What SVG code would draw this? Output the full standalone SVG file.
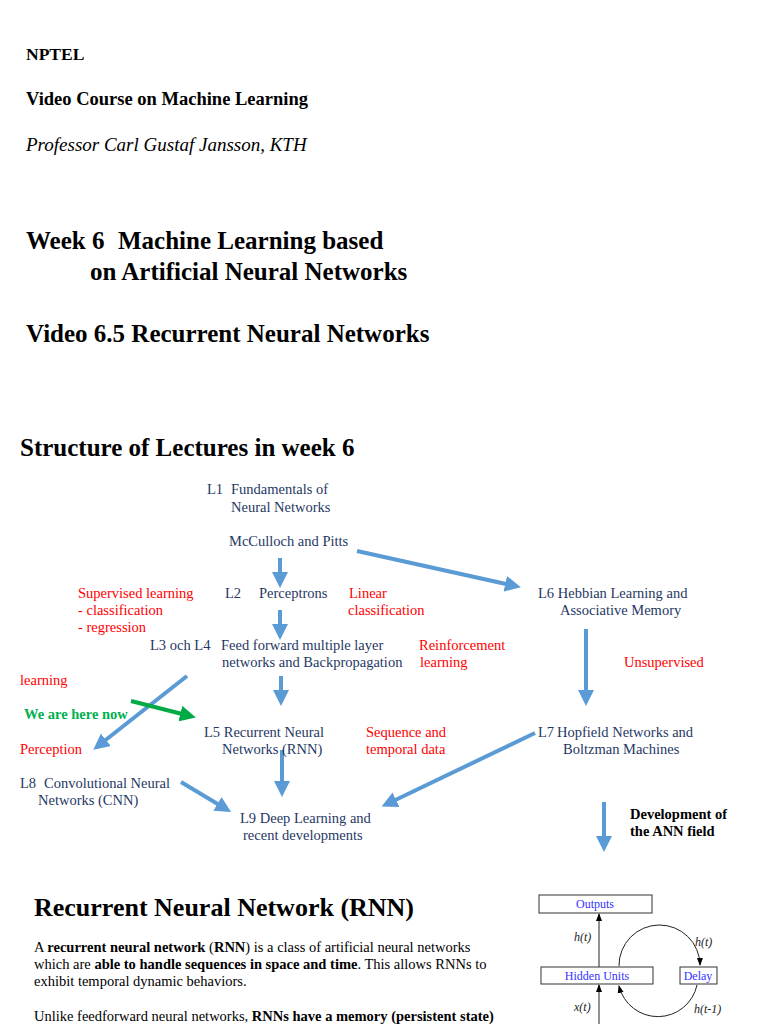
<svg xmlns="http://www.w3.org/2000/svg" width="768" height="1024" viewBox="0 0 768 1024">
<style>
text{font-family:"Liberation Serif",serif;white-space:pre}
.h{font-weight:bold;fill:#000}
.n{font-size:14.5px;fill:#1f3864}
.r{font-size:14.5px;fill:#ff0000}
.b{font-size:14.5px;fill:#000}
.arr{stroke:#5b9bd5;stroke-width:4;fill:none;marker-end:url(#ah)}
.bx{fill:#fff;stroke:#333;stroke-width:1}
.bt{font-size:12px;fill:#3333ff;text-anchor:middle}
.it{font-size:12px;font-style:italic;fill:#222}
</style>
<defs>
<marker id="ah" markerWidth="4" markerHeight="4" refX="2.5" refY="2" orient="auto"><path d="M0,0L4,2L0,4z" fill="#5b9bd5"/></marker>
<marker id="ag" markerWidth="4" markerHeight="4" refX="2.5" refY="2" orient="auto"><path d="M0,0L4,2L0,4z" fill="#00aa44"/></marker>
<marker id="ak" markerWidth="8" markerHeight="8" refX="7" refY="4" orient="auto"><path d="M0,1L8,4L0,7z" fill="#000"/></marker>
</defs>
<rect width="768" height="1024" fill="#fff"/>
<text x="26" y="60" class="h" font-size="17.5">NPTEL</text>
<text x="26" y="105" class="h" font-size="18.5">Video Course on Machine Learning</text>
<text x="26" y="151" font-size="19" font-style="italic">Professor Carl Gustaf Jansson, KTH</text>
<text x="26" y="249" class="h" font-size="25">Week 6</text>
<text x="118" y="249" class="h" font-size="25">Machine Learning based</text>
<text x="90" y="280" class="h" font-size="25">on Artificial Neural Networks</text>
<text x="26" y="342" class="h" font-size="25">Video 6.5 Recurrent Neural Networks</text>
<text x="20" y="456" class="h" font-size="25">Structure of Lectures in week 6</text>

<g id="connectors">
<line class="arr" x1="280" y1="558" x2="280" y2="582"/>
<line class="arr" x1="357" y1="551" x2="515" y2="586"/>
<line class="arr" x1="280" y1="610" x2="280" y2="634"/>
<line class="arr" x1="281" y1="676" x2="281" y2="700"/>
<line class="arr" x1="586" y1="629" x2="586" y2="700"/>
<line class="arr" x1="187" y1="676" x2="98" y2="746"/>
<line stroke="#00aa44" stroke-width="4" marker-end="url(#ag)" x1="131" y1="701" x2="190" y2="716"/>
<line class="arr" x1="282" y1="750" x2="282" y2="791"/>
<line class="arr" x1="535" y1="733" x2="387" y2="804"/>
<line class="arr" x1="181" y1="782" x2="226" y2="809"/>
<line class="arr" x1="604" y1="802" x2="604" y2="846"/>
</g>

<g id="L1"><text x="207" y="494" class="n">L1</text><text x="231" y="494" class="n">Fundamentals of</text><text x="231" y="512" class="n">Neural Networks</text></g>
<g id="mcp"><text x="229" y="546" class="n">McCulloch and Pitts</text></g>
<g id="L2"><text x="225" y="598" class="n">L2</text><text x="259" y="598" class="n">Perceptrons</text></g>
<g id="L34"><text x="150" y="650" class="n">L3 och L4</text><text x="221" y="650" class="n">Feed forward multiple layer</text><text x="222" y="667" class="n">networks and Backpropagation</text></g>
<g id="L5"><text x="204" y="737" class="n">L5 Recurrent Neural</text><text x="222" y="754" class="n">Networks (RNN)</text></g>
<g id="L6"><text x="538" y="598" class="n">L6 Hebbian Learning and</text><text x="560" y="615" class="n">Associative Memory</text></g>
<g id="L7"><text x="538" y="737" class="n">L7</text><text x="557" y="737" class="n">Hopfield Networks and</text><text x="563" y="754" class="n">Boltzman Machines</text></g>
<g id="L8"><text x="20" y="788" class="n">L8</text><text x="44" y="788" class="n">Convolutional Neural</text><text x="38" y="805" class="n">Networks (CNN)</text></g>
<g id="L9"><text x="240" y="823" class="n">L9 Deep Learning and</text><text x="243" y="840" class="n">recent developments</text></g>

<text x="78" y="598" class="r">Supervised learning</text>
<text x="78" y="615" class="r">- classification</text>
<text x="78" y="632" class="r">- regression</text>
<text x="349" y="598" class="r">Linear</text>
<text x="348" y="615" class="r">classification</text>
<text x="419" y="650" class="r">Reinforcement</text>
<text x="420" y="667" class="r">learning</text>
<text x="624" y="667" class="r">Unsupervised</text>
<text x="20" y="685" class="r">learning</text>
<text x="24" y="719" font-size="14.5" font-weight="bold" fill="#00b050">We are here now</text>
<text x="20" y="754" class="r">Perception</text>
<text x="366" y="737" class="r">Sequence and</text>
<text x="366" y="754" class="r">temporal data</text>
<text x="630" y="819" class="b" font-weight="bold">Development of</text>
<text x="630" y="836" class="b" font-weight="bold">the ANN field</text>

<text x="34" y="916" class="h" font-size="26">Recurrent Neural Network (RNN)</text>
<text x="34" y="952" class="b">A <tspan font-weight="bold">recurrent neural network</tspan> (<tspan font-weight="bold">RNN</tspan>) is a class of artificial neural networks</text>
<text x="34" y="969" class="b">which are <tspan font-weight="bold">able to handle sequences in space and time</tspan>. This allows RNNs to</text>
<text x="34" y="986" class="b">exhibit temporal dynamic behaviors.</text>
<text x="34" y="1021" class="b">Unlike feedforward neural networks, <tspan font-weight="bold">RNNs have a memory (persistent state)</tspan></text>

<g id="outputs"><rect class="bx" x="539" y="895" width="113" height="18"/><text x="595" y="908" class="bt">Outputs</text></g>
<g id="hidden"><rect class="bx" x="541" y="967" width="112" height="17"/><text x="597" y="980" class="bt">Hidden Units</text></g>
<g id="delay"><rect class="bx" x="680" y="967" width="37" height="17"/><text x="698" y="980" class="bt">Delay</text></g>
<g id="rnn-conn" stroke="#222" stroke-width="1" fill="none">
<line x1="599" y1="967" x2="599" y2="914" marker-end="url(#ak)"/>
<line x1="599" y1="1024" x2="599" y2="985" marker-end="url(#ak)"/>
<path d="M619,966 A40,40 0 0 1 700,965" marker-end="url(#ak)"/>
<path d="M697,985 A40,40 0 0 1 619,986" marker-end="url(#ak)"/>
</g>
<text x="574" y="941" class="it">h(t)</text>
<text x="695" y="946" class="it">h(t)</text>
<text x="574" y="1011" class="it">x(t)</text>
<text x="694" y="1013" class="it">h(t-1)</text>
</svg>
